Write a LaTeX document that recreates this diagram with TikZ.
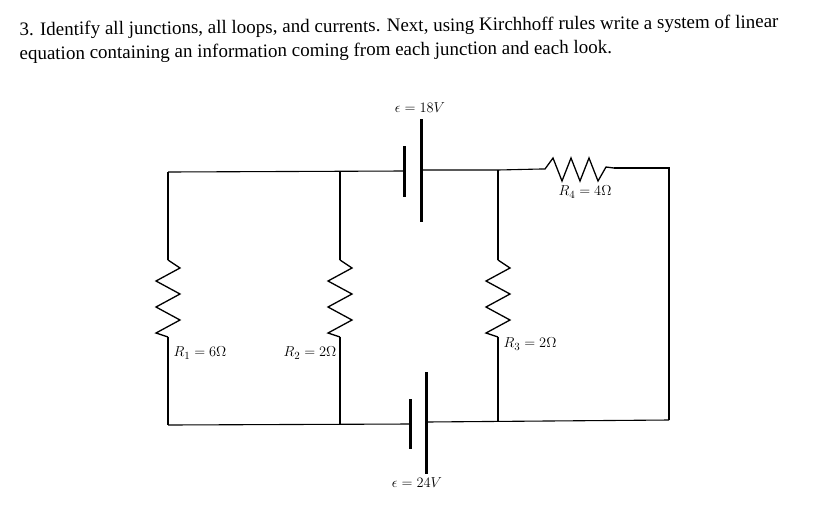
\documentclass[tikz,border=0pt]{standalone}
\usepackage{fontspec}
\setmainfont{Liberation Serif}
\begin{document}
\begin{tikzpicture}[x=1pt,y=-1pt,
  wire/.style={line width=1.1pt},
  plate/.style={line width=3pt},
  lab/.style={font=\fontsize{15}{17}\selectfont, inner sep=1pt},
  zz/.style={line width=1.3pt}]
\useasboundingbox (0,0) rectangle (818,520);
\node[anchor=west, font=\fontsize{19}{21}\selectfont, rotate=0.6] (t1) at (16,31) {3. Identify all junctions, all loops, and currents. Next, using Kirchhoff rules write a system of linear};
\node[anchor=west, font=\fontsize{19}{21}\selectfont, rotate=0.6] (t2) at (16,55) {equation containing an information coming from each junction and each look.};
\coordinate (TL) at (168,172); \coordinate (T2) at (340,171);
\coordinate (T3) at (498,170); \coordinate (TR) at (669,168);
\coordinate (BL) at (168,425); \coordinate (B2) at (340,424);
\coordinate (B3) at (498,421); \coordinate (BR) at (669,420);
\coordinate (tbs) at (404,171); \coordinate (tbl) at (421,170);
\draw[plate] (404,146) -- (404,197);
\draw[plate] (421,119) -- (421,222);
\draw[wire] (TL) -- (tbs);
\draw[wire] (tbl) -- (T3) -- (541,169);
\draw[zz] (541,169) -- (545,169) -- (553,158) -- (562,181) -- (571,158) -- (580,181) -- (589,158) -- (598,181) -- (606,167) -- (614,168);
\draw[wire] (614,168) -- (TR) -- (BR);
\draw[plate] (410,399) -- (410,449);
\draw[plate] (426,372) -- (426,474);
\draw[wire] (BL) -- (410,424);
\draw[wire] (426,422) -- (BR);
\foreach \x/\a/\b in {168/172/425, 340/171/424, 498/170/421}{
  \draw[wire] (\x,\a) -- (\x,260);
  \draw[zz] (\x,260) -- (\x+12,268) -- (\x-12,281) -- (\x+12,294) -- (\x-12,307) -- (\x+12,320) -- (\x-12,333) -- (\x,337);
  \draw[wire] (\x,337) -- (\x,\b);
}
\node[lab] (e1) at (420,108) {$\epsilon=18V$};
\node[lab] (r4) at (585,192) {$R_4=4\Omega$};
\node[lab] (r1) at (200,353) {$R_1=6\Omega$};
\node[lab] (r2) at (310,353) {$R_2=2\Omega$};
\node[lab] (r3) at (530,344) {$R_3=2\Omega$};
\node[lab] (e2) at (417,483) {$\epsilon=24V$};
\end{tikzpicture}
\end{document}
